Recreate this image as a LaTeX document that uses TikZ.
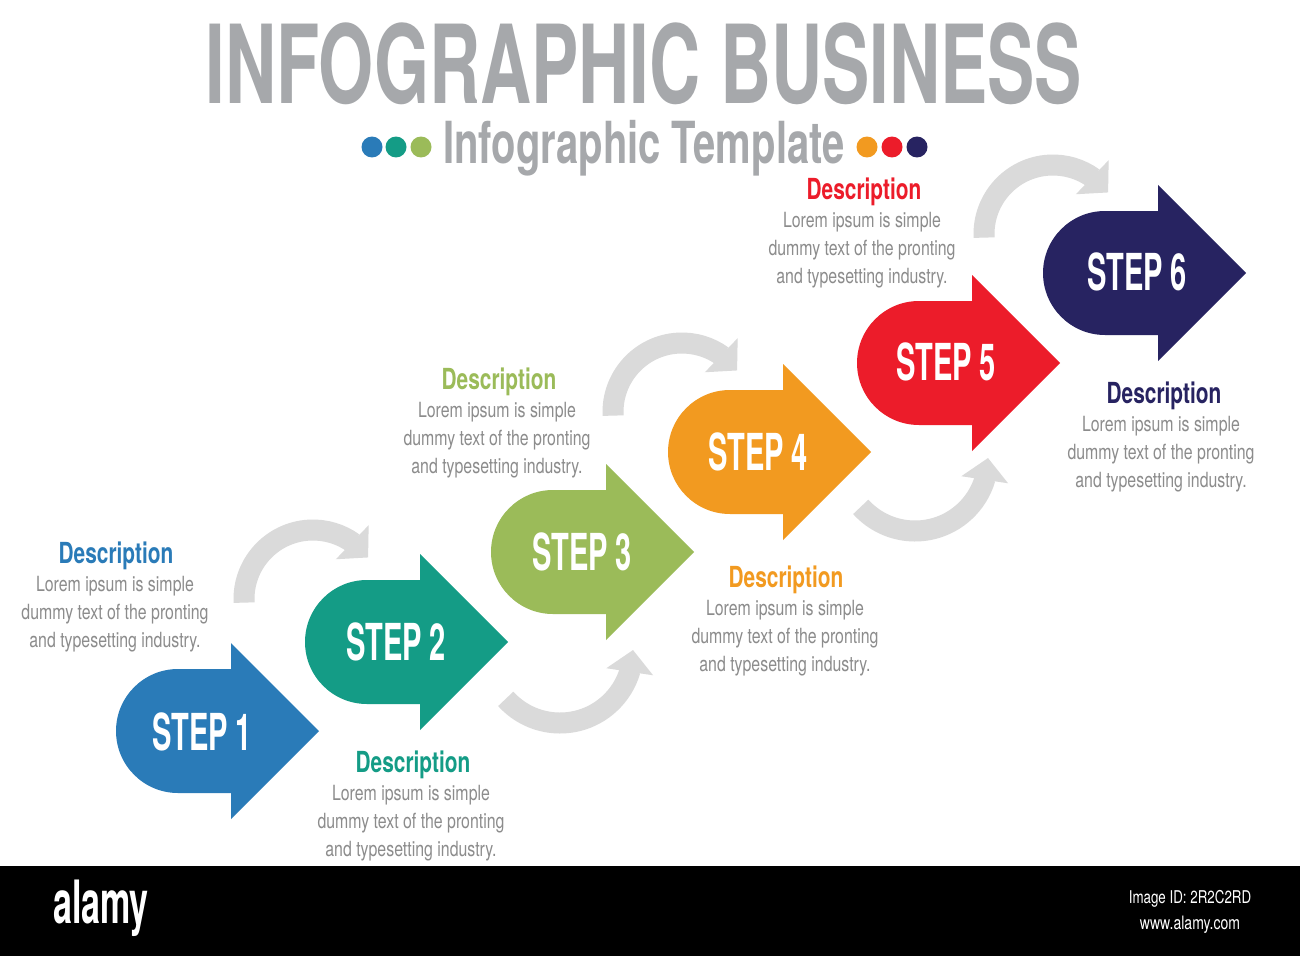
\documentclass[tikz,border=0pt]{standalone}
\usepackage{fontspec}
\usepackage{tikz}
\usetikzlibrary{positioning, arrows.meta, bending}

\newfontfamily\titlefont[FakeStretch=0.65]{TeX Gyre Heros}
\newfontfamily\subfont[FakeStretch=0.69]{TeX Gyre Heros}
\newfontfamily\stepfont[FakeStretch=0.57]{TeX Gyre Heros}
\newfontfamily\headfont[FakeStretch=0.72]{TeX Gyre Heros}
\newfontfamily\bodyfont[FakeStretch=0.76]{TeX Gyre Heros}

\definecolor{stepblue}{HTML}{2A7BB8}
\definecolor{stepteal}{HTML}{149C86}
\definecolor{stepgreen}{HTML}{9BBB59}
\definecolor{steporange}{HTML}{F29A20}
\definecolor{stepred}{HTML}{EC1C2A}
\definecolor{stepnavy}{HTML}{272361}
\definecolor{titlegray}{HTML}{A6A8AB}
\definecolor{bodygray}{HTML}{8C8C8C}
\definecolor{arcgray}{HTML}{DADADA}

\begin{document}
\begin{tikzpicture}[x=0.02cm, y=0.02cm]
    \tikzset{
        steparrow/.pic={
                \fill[pic actions] (0,62) -- (0,88) -- (88,0) -- (0,-88) -- (0,-62) -- (-53,-62) arc (270:90:62) -- cycle;
            },
        step label/.style={
                font=\stepfont\bfseries\fontsize{29}{30}\selectfont, text=white, inner sep=0pt, anchor=base
            },
        desc head/.style={
                font=\headfont\bfseries\fontsize{16.5}{18}\selectfont, inner sep=0pt, anchor=base
            },
        desc body/.style={
                font=\bodyfont\fontsize{11.9}{15.9}\selectfont, text=bodygray, align=center, inner sep=0pt, anchor=north
            },
        flow arc/.style={
                draw=arcgray, line width=0.42cm, -{Triangle[length=0.44cm, width=0.92cm, flex]}
            },
        dot/.style={circle, inner sep=0pt, minimum size=0.42cm}
    }

    \useasboundingbox (0,0) rectangle (1300,-956);
    \fill[white] (0,0) rectangle (1300,-956);
    \fill[black] (0,-866) rectangle (1300,-956);

    % --- header ---
    \node[font=\titlefont\bfseries\fontsize{62}{62}\selectfont, text=titlegray, inner sep=0pt, anchor=base] (title) at (644,-104) {INFOGRAPHIC BUSINESS};
    \node[font=\subfont\bfseries\fontsize{33}{34}\selectfont, text=titlegray, inner sep=0pt, anchor=base] (subtitle) at (644,-164) {Infographic Template};
    \node[dot, fill=stepblue] (dotA) at (372,-147) {};
    \node[dot, fill=stepteal] (dotB) at (396,-147) {};
    \node[dot, fill=stepgreen] (dotC) at (421,-147) {};
    \node[dot, fill=steporange] (dotD) at (867,-147) {};
    \node[dot, fill=stepred] (dotE) at (892,-147) {};
    \node[dot, fill=stepnavy] (dotF) at (917,-147) {};

    % --- curved grey arrows between the steps ---
    \coordinate (arcA) at (313,-599);
    \coordinate (arcB) at (560,-650);
    \coordinate (arcC) at (682,-412);
    \coordinate (arcD) at (915,-458);
    \coordinate (arcE) at (1053,-234);
    \draw[flow arc] ([shift={(183:69)}]arcA) arc[start angle=183, end angle=37, radius=69];
    \draw[flow arc] ([shift={(222:73)}]arcB) arc[start angle=222, end angle=360, radius=73];
    \draw[flow arc] ([shift={(183:69)}]arcC) arc[start angle=183, end angle=37, radius=69];
    \draw[flow arc] ([shift={(222:73)}]arcD) arc[start angle=222, end angle=360, radius=73];
    \draw[flow arc] ([shift={(183:69)}]arcE) arc[start angle=183, end angle=37, radius=69];

    % --- step arrows ---
    \pic[fill=stepblue] at (231,-731) {steparrow};
    \pic[fill=stepteal] at (420,-642) {steparrow};
    \pic[fill=stepgreen] at (606,-552) {steparrow};
    \pic[fill=steporange] at (783,-452) {steparrow};
    \pic[fill=stepred] at (972,-363) {steparrow};
    \pic[fill=stepnavy] at (1158,-273) {steparrow};
    \node[step label] (step1) at (202,-750) {STEP 1};
    \node[step label] (step2) at (396,-660) {STEP 2};
    \node[step label] (step3) at (582,-570) {STEP 3};
    \node[step label] (step4) at (758,-470) {STEP 4};
    \node[step label] (step5) at (946,-380) {STEP 5};
    \node[step label] (step6) at (1137,-290) {STEP 6};

    % --- descriptions ---
    \node[desc head, text=stepblue] (head1) at (116,-563) {Description};
    \node[desc body] (body1) at (115,-576) {Lorem ipsum is simple\\dummy text of the pronting\\and typesetting industry.};
    \node[desc head, text=stepteal] (head2) at (413,-772) {Description};
    \node[desc body] (body2) at (411,-785) {Lorem ipsum is simple\\dummy text of the pronting\\and typesetting industry.};
    \node[desc head, text=stepgreen] (head3) at (499,-389) {Description};
    \node[desc body] (body3) at (497,-402) {Lorem ipsum is simple\\dummy text of the pronting\\and typesetting industry.};
    \node[desc head, text=steporange] (head4) at (786,-587) {Description};
    \node[desc body] (body4) at (785,-600) {Lorem ipsum is simple\\dummy text of the pronting\\and typesetting industry.};
    \node[desc head, text=stepred] (head5) at (864,-199) {Description};
    \node[desc body] (body5) at (862,-212) {Lorem ipsum is simple\\dummy text of the pronting\\and typesetting industry.};
    \node[desc head, text=stepnavy] (head6) at (1164,-403) {Description};
    \node[desc body] (body6) at (1161,-416) {Lorem ipsum is simple\\dummy text of the pronting\\and typesetting industry.};

    % --- footer bar ---
    \node[font=\stepfont\bfseries\fontsize{34}{34}\selectfont, text=white, inner sep=0pt, anchor=base] (brand) at (101,-923) {alamy};
    \node[font=\bodyfont\fontsize{10}{11}\selectfont, text=white, inner sep=0pt, anchor=base] (imageid) at (1190,-903) {Image ID: 2R2C2RD};
    \node[font=\bodyfont\fontsize{10.5}{11}\selectfont, text=white, inner sep=0pt, anchor=base] (website) at (1190,-929) {www.alamy.com};
\end{tikzpicture}
\end{document}
